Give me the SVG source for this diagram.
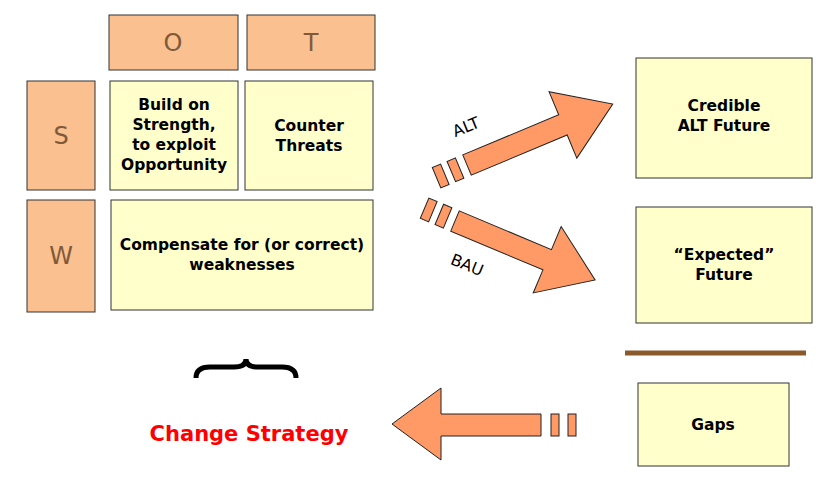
<svg xmlns="http://www.w3.org/2000/svg" width="823" height="486" viewBox="0 0 823 486">
<style>
.p{fill:#FAC090;stroke:#333;stroke-width:1}
.y{fill:#FFFFCC;stroke:#333;stroke-width:1}
.L{font-family:"DejaVu Sans",Verdana,sans-serif;font-size:24px;fill:#7F5A3A;text-anchor:middle}
.t{font-family:"DejaVu Sans",Verdana,sans-serif;font-size:15.5px;font-weight:bold;fill:#000;text-anchor:middle}
.a{fill:#FF9966;stroke:#222;stroke-width:1}
.al{font-family:"DejaVu Sans",Verdana,sans-serif;font-size:16px;fill:#000;text-anchor:middle}
</style>
<rect width="823" height="486" fill="#fff"/>
<g id="O"><rect class="p" x="109" y="15" width="129" height="55"/><text class="L" x="173" y="51">O</text></g>
<g id="T"><rect class="p" x="247" y="15" width="128" height="55"/><text class="L" x="311" y="51">T</text></g>
<g id="S"><rect class="p" x="27" y="81" width="68" height="109"/><text class="L" x="61" y="144">S</text></g>
<g id="W"><rect class="p" x="27" y="200" width="68" height="112"/><text class="L" x="61" y="264">W</text></g>
<g id="build"><rect class="y" x="110" y="81" width="128" height="109"/>
<text class="t" x="174" y="110">Build on</text><text class="t" x="174" y="130">Strength,</text><text class="t" x="174" y="150">to exploit</text><text class="t" x="174" y="170">Opportunity</text></g>
<g id="counter"><rect class="y" x="245" y="81" width="128" height="109"/>
<text class="t" x="309" y="131">Counter</text><text class="t" x="309" y="151">Threats</text></g>
<g id="compensate"><rect class="y" x="111" y="200" width="262" height="110"/>
<text class="t" x="242" y="250">Compensate for (or correct)</text><text class="t" x="242" y="270">weaknesses</text></g>
<g id="credible"><rect class="y" x="636" y="58" width="176" height="120"/>
<text class="t" x="724" y="111">Credible</text><text class="t" x="724" y="131">ALT Future</text></g>
<g id="expected"><rect class="y" x="636" y="207" width="176" height="116"/>
<text class="t" x="724" y="260">“Expected”</text><text class="t" x="724" y="280">Future</text></g>
<line x1="625" y1="353" x2="806" y2="353" stroke="#8B5A2B" stroke-width="5"/>
<g id="gaps"><rect class="y" x="638" y="383" width="151" height="83"/><text class="t" x="713" y="430">Gaps</text></g>
<g id="strategy">
<path d="M196,378 Q196,367 210,367 L234,367 Q246,367 246,359 Q246,367 258,367 L282,367 Q296,367 296,378" fill="none" stroke="#000" stroke-width="5"/>
<text x="249" y="441" font-family="DejaVu Sans,Verdana,sans-serif" font-size="21" font-weight="bold" fill="#FF0000" text-anchor="middle">Change Strategy</text></g>
<g id="connectors">
<g transform="translate(467,165) rotate(-22.7)">
<path class="a" d="M0,-11 L104,-11 L104,-36 L158,0 L104,36 L104,11 L0,11 Z"/>
<rect class="a" x="-33" y="-11" width="9" height="22"/><rect class="a" x="-17" y="-11" width="9" height="22"/>
</g>
<text class="al" transform="translate(468,132) rotate(-22)">ALT</text>
<g transform="translate(455,221) rotate(22.8)">
<path class="a" d="M0,-11 L100,-11 L100,-36 L152,0 L100,36 L100,11 L0,11 Z"/>
<rect class="a" x="-33" y="-11" width="9" height="22"/><rect class="a" x="-17" y="-11" width="9" height="22"/>
</g>
<text class="al" transform="translate(465,270) rotate(22)">BAU</text>
<path class="a" d="M541,414 L441,414 L441,388 L392,424 L441,460 L441,436 L541,436 Z"/>
<rect class="a" x="551" y="414" width="8" height="22"/><rect class="a" x="568" y="414" width="8" height="22"/>
</g>
</svg>
